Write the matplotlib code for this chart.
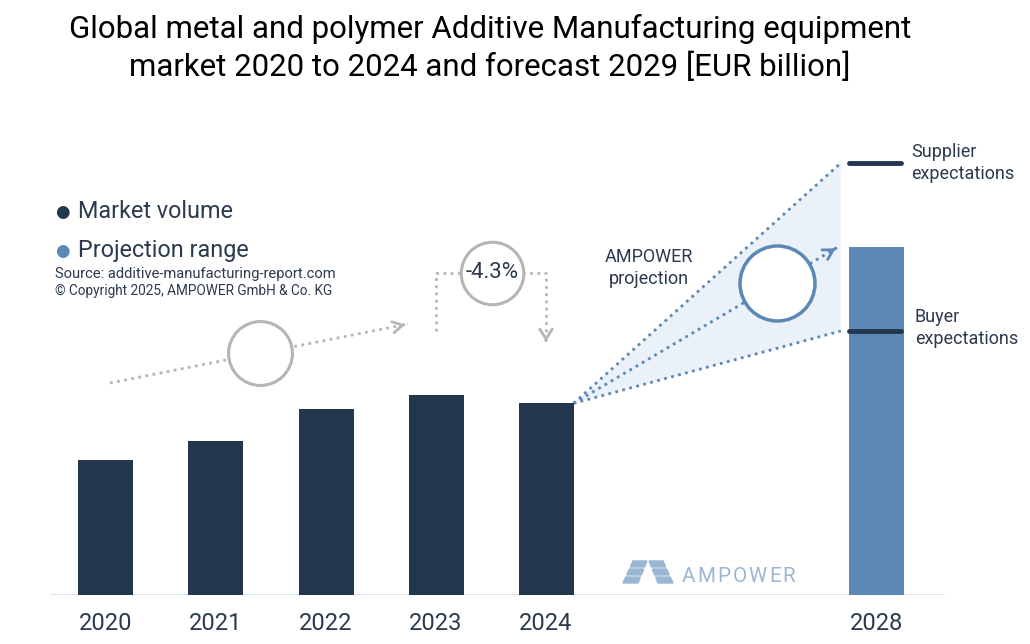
import matplotlib.pyplot as plt
from matplotlib.patches import Polygon

plt.rcParams['font.family'] = ['Roboto', 'DejaVu Sans']

# values (bar heights, arbitrary scale)
years = ['2020', '2021', '2022', '2023', '2024']
market_volume = [3.38, 3.85, 4.65, 5.0, 4.79]
forecast_year = '2028'
projection_top = 8.7
buyer_expectation = 6.6
supplier_expectation = 10.8
change_label = '-4.3%'

navy = '#22364d'
blue = '#5b88b5'
grey = '#b5b5b5'
textc = '#2b3a4e'

W, H = 1030, 644
fig = plt.figure(figsize=(W / 100, H / 100), dpi=100)


def px(x, y):
    return x / W, 1 - y / H


ax = fig.add_axes([50 / W, 49 / H, 895 / W, 495 / H])
ax.set_xlim(-0.509, 7.627)
ax.set_ylim(0, 12.375)
for s in ax.spines.values():
    s.set_visible(False)
ax.set_yticks([])

xs = list(range(len(years)))
x28 = 7
ax.bar(xs, market_volume, width=0.5, color=navy, zorder=3)
ax.bar(x28, projection_top, width=0.5, color=blue, zorder=3)
ax.hlines([supplier_expectation, buyer_expectation], 6.75, 7.23, color=navy,
          lw=3.5, capstyle='round', zorder=4)
ax.axhline(0, color='#dce7f1', lw=1.5, zorder=2)

ax.set_xticks(xs + [x28])
ax.set_xticklabels(years + [forecast_year])
ax.tick_params(axis='x', length=0, pad=12, labelsize=17, labelcolor=textc)

# projection cone
apex = (4.25, market_volume[-1])
cone_x = 6.68
ax.fill([apex[0], cone_x, cone_x], [apex[1], supplier_expectation, buyer_expectation],
        color='#eaf1f9', zorder=1, lw=0)
dot = (0, (1, 1.6))
for yy in [supplier_expectation, buyer_expectation]:
    ax.plot([apex[0], cone_x], [apex[1], yy], color=blue, lw=2, ls=dot, zorder=2)
mid_end = (6.655, projection_top)
ax.plot([apex[0], mid_end[0]], [apex[1], mid_end[1]], color=blue, lw=2, ls=dot, zorder=2)
ax.annotate('', xy=mid_end, xytext=(mid_end[0] - 0.05, mid_end[1] - 0.08),
            arrowprops=dict(arrowstyle='->,head_length=0.7,head_width=0.4', color=blue, lw=2),
            zorder=2)
cx = 6.1
cy = apex[1] + (cx - apex[0]) / (mid_end[0] - apex[0]) * (mid_end[1] - apex[1])
ax.plot(cx, cy, 'o', ms=54, mfc='white', mec=blue, mew=2.5, zorder=5)

# growth arrow 2020-2022
g0, g1 = (0.036, 5.3), (2.745, 6.775)
ax.plot([g0[0], g1[0]], [g0[1], g1[1]], color=grey, lw=2, ls=dot, zorder=2)
ax.annotate('', xy=g1, xytext=(g1[0] - 0.06, g1[1] - 0.035),
            arrowprops=dict(arrowstyle='->,head_length=0.7,head_width=0.4', color=grey, lw=2))
ax.plot(1.4, 6.05, 'o', ms=46, mfc='white', mec=grey, mew=2.2, zorder=5)

# 2023 -> 2024 change bracket
by = 8.05
ax.plot([3, 3, 4, 4], [market_volume[3] + 1.6, by, by, market_volume[4] + 1.65],
        color=grey, lw=2, ls=dot, zorder=2)
ax.annotate('', xy=(4, market_volume[4] + 1.55), xytext=(4, market_volume[4] + 1.65),
            arrowprops=dict(arrowstyle='->,head_length=0.7,head_width=0.45', color=grey, lw=2))
ax.plot(3.509, by, 'o', ms=45, mfc='white', mec=grey, mew=2.2, zorder=5)
ax.text(3.509, by, change_label, ha='center', va='center', fontsize=16, color=textc, zorder=6)

# labels
fig.text(*px(649, 268), 'AMPOWER\nprojection', ha='center', va='center', fontsize=13,
         color=textc, linespacing=1.25)
fig.text(*px(911, 163), 'Supplier\nexpectations', ha='left', va='center', fontsize=13,
         color=textc, linespacing=1.25)
fig.text(*px(915, 328), 'Buyer\nexpectations', ha='left', va='center', fontsize=13,
         color=textc, linespacing=1.25)

# title
fig.text(*px(490, 38), 'Global metal and polymer Additive Manufacturing equipment',
         ha='center', va='baseline', fontsize=22.5, color='black')
fig.text(*px(490, 76), 'market 2020 to 2024 and forecast 2029 [EUR billion]',
         ha='center', va='baseline', fontsize=22.5, color='black')

# legend
fig.text(*px(62, 212), '●', ha='center', va='center', fontsize=12, color=navy)
fig.text(*px(78, 211), 'Market volume', ha='left', va='center', fontsize=16.8, color=textc)
fig.text(*px(62, 252), '●', ha='center', va='center', fontsize=12, color=blue)
fig.text(*px(78, 251), 'Projection range', ha='left', va='center', fontsize=16.8, color=textc)
fig.text(*px(55, 274), 'Source: additive-manufacturing-report.com', ha='left', va='center',
         fontsize=10.6, color=textc)
fig.text(*px(55, 291), '\u00a9 Copyright 2025, AMPOWER GmbH & Co. KG', ha='left', va='center',
         fontsize=9.8, color=textc)

# logo
logo = '#9ab6d3'
renderer = fig.canvas.get_renderer()
lx = 682
for ch in 'AMPOWER':
    t = fig.text(*px(lx, 577), ch, ha='left', va='center', fontsize=14.8, color=logo)
    lx += t.get_window_extent(renderer).width + 2.0
c = 648
for i in range(3):
    t = 561 + 8 * i
    b = t + 6
    out_t, out_b = 15 + (t - 561) * 10 / 22, 15 + (b - 561) * 10 / 22
    in_t, in_b = 1 + (t - 561) * 9 / 22, 1 + (b - 561) * 9 / 22
    for sgn in (1, -1):
        pts = [(c + sgn * out_t, t), (c + sgn * in_t, t),
               (c + sgn * in_b, b), (c + sgn * out_b, b)]
        fig.patches.append(Polygon([px(*p) for p in pts], closed=True, color=logo,
                                   transform=fig.transFigure, figure=fig))

fig.savefig('out.png', dpi=100)
